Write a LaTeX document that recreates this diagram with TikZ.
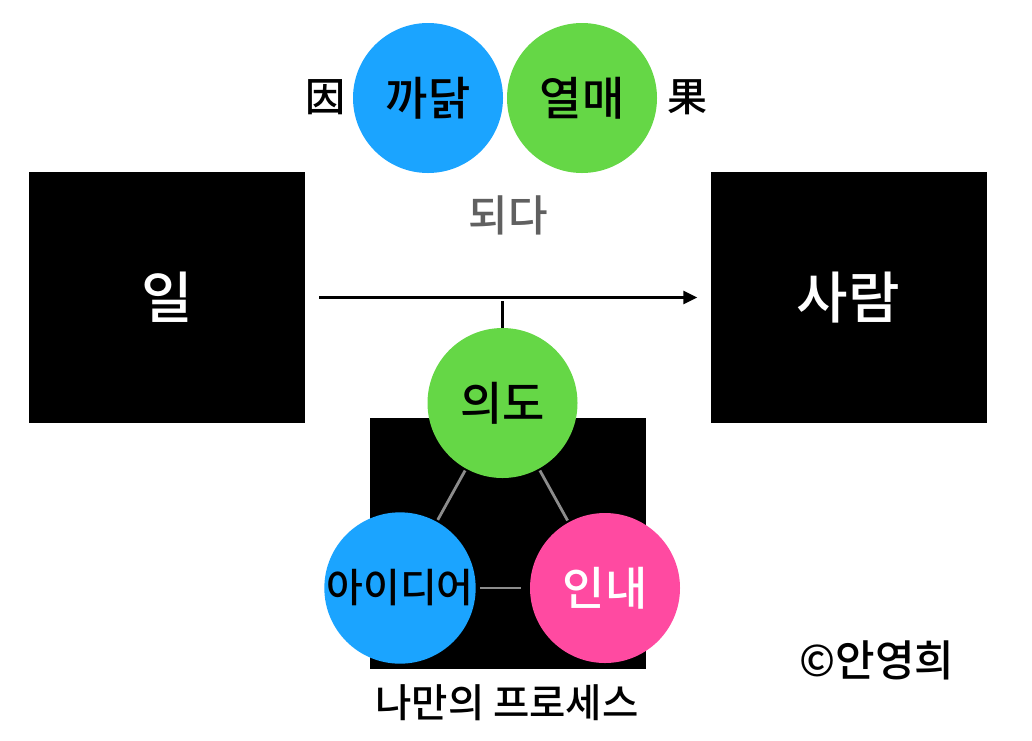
\documentclass[tikz,border=0pt]{standalone}
\usepackage{fontspec}
\usepackage{tikz}
\usepackage{xcolor}
\usetikzlibrary{arrows.meta, positioning, calc}
\setmainfont{Noto Sans CJK KR}[BoldFont={Noto Sans CJK KR Medium}]
\definecolor{bluecolor}{RGB}{27,164,255}
\definecolor{greencolor}{RGB}{101,215,70}
\definecolor{pinkcolor}{RGB}{255,74,161}
\definecolor{captioncolor}{RGB}{96,96,96}
\newcommand{\fsize}[1]{\fontsize{#1}{#1}\selectfont\bfseries}
\tikzstyle{blackbox} = [rectangle, fill=black, text=white, inner sep=0pt, minimum width=276pt, minimum height=251pt, font=\fsize{56}]
\tikzstyle{bubble} = [circle, inner sep=0pt, minimum size=150pt, font=\fsize{46}]
\tikzstyle{link} = [draw=gray!90, line width=2.8pt]
\tikzstyle{arrow} = [-{Triangle[length=14pt,width=13pt]}, line width=2.5pt]

\begin{document}
\begin{tikzpicture}[x=1pt, y=-1pt]
    \useasboundingbox (0,0) rectangle (1032,740);

    % Cause and result
    \node[font=\fsize{40}] (cause) at (325,97) {因};
    \node[bubble, fill=bluecolor] (reason) at (428,98) {까닭};
    \node[bubble, fill=greencolor] (fruit) at (582,98) {열매};
    \node[font=\fsize{40}] (result) at (687,97) {果};
    \node[font=\fsize{43}, text=captioncolor] (become) at (508,215) {되다};

    % Work and person
    \node[blackbox] (work) at (167,297.5) {일};
    \node[blackbox] (person) at (848.5,297.5) {사람};
    \draw[arrow, shorten <=14pt, shorten >=13pt] (work.east) -- (person.west);

    % My own process
    \node[blackbox] (process) at (507.5,543.5) {};
    \node[bubble, fill=greencolor] (intent) at (502.5,403) {의도};
    \node[bubble, fill=bluecolor, font=\fsize{40}] (idea) at (400,588) {아이디어};
    \node[bubble, fill=pinkcolor, text=white] (patience) at (605,588) {인내};
    \draw[line width=2.5pt, shorten >=3pt] (intent.north) -- (intent.north |- work.east);

    \draw[link, shorten <=2pt, shorten >=2pt] (intent) -- (idea);
    \draw[link, shorten <=2pt, shorten >=2pt] (intent) -- (patience);
    \draw[link, shorten <=4pt, shorten >=9pt] (idea) -- (patience);

    \node[font=\fsize{39.5}] (caption) at (507,703) {나만의 프로세스};
    \node[font=\fsize{43}] (author) at (877,660) {©안영희};
\end{tikzpicture}
\end{document}
